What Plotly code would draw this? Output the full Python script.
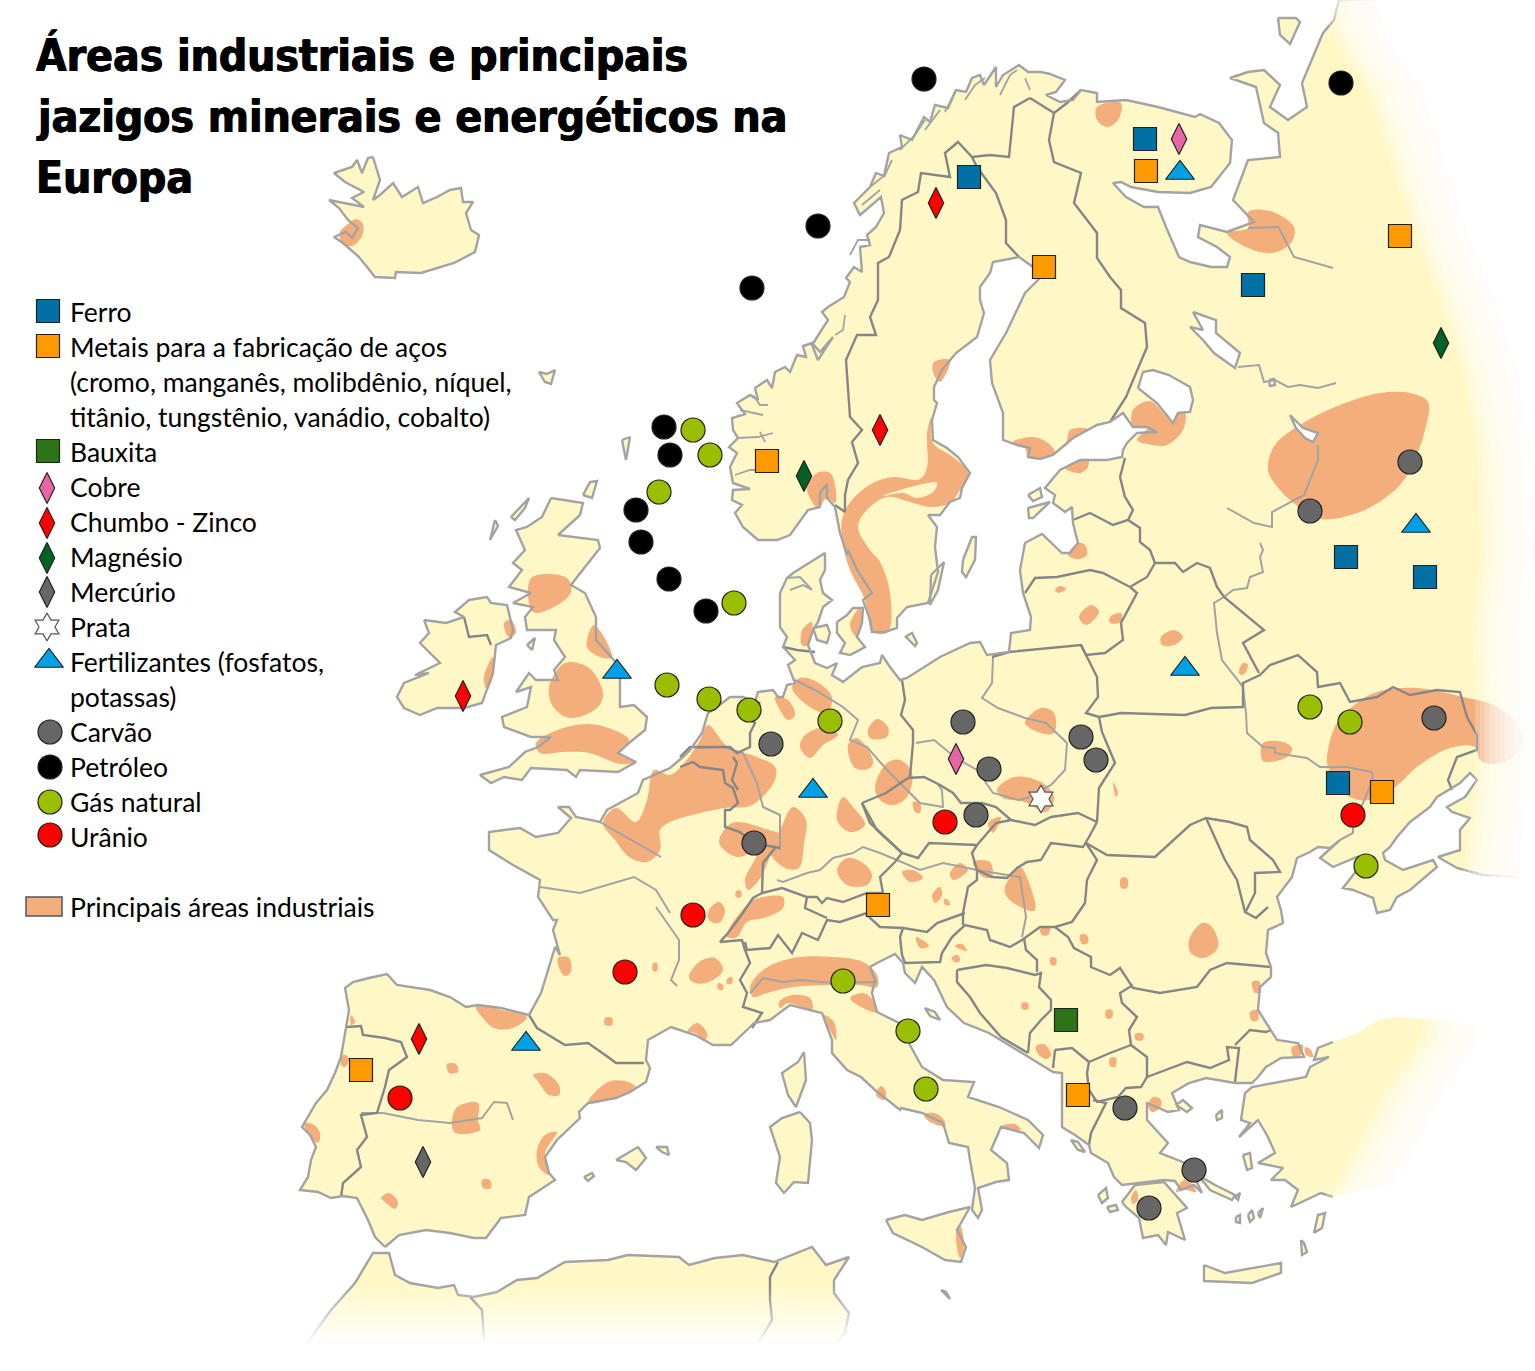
import plotly.graph_objects as go

# map is traced in picture coordinates, axes run 0-1535 and 1371-0
LAND = "#fff8c6"
AREA = "#f4ae7b"
COAST = "#a3a3a3"
BORDER = "#868686"
TITLE_FONT = "DejaVu Sans Condensed"
TEXT_FONT = "Lato"

mainland = [
    (385,1247),(375,1237),(368,1220),(357,1198),(343,1196),(331,1198),(318,1192),(300,1190),(308,1177),(311,1160),
    (316,1147),(310,1135),(302,1127),(306,1120),(316,1103),(327,1090),(335,1073),(341,1057),(345,1033),(347,1025),
    (349,1010),(345,988),(353,982),(369,978),(387,974),(397,985),(430,990),(450,997),(466,1007),(478,1005),(501,1008),
    (529,1015),(541,993),(549,967),(555,947),(560,955),(553,930),(557,920),(553,920),(538,897),(540,880),(513,865),
    (489,850),(489,832),(520,828),(536,837),(558,833),(571,818),(558,807),(569,807),(576,817),(600,822),(607,810),
    (638,793),(643,780),(670,768),(683,757),(690,750),(695,743),(702,733),(708,713),(717,707),(730,697),(743,697),
    (755,702),(758,692),(773,690),(778,697),(783,697),(787,685),(795,683),(788,665),(795,660),(783,647),(787,637),
    (780,627),(780,593),(787,578),(793,573),(813,560),(825,553),(825,570),(820,580),(823,593),(832,600),(823,607),
    (818,622),(813,630),(808,645),(815,663),(827,668),(837,663),(832,675),(843,682),(862,667),(880,663),(882,655),
    (890,667),(900,680),(907,678),(940,657),(970,643),(980,642),(987,655),(1009,652),(1011,633),(1030,630),(1031,617),
    (1023,593),(1020,570),(1025,543),(1042,534),(1053,545),(1062,553),(1070,553),(1078,543),(1073,523),(1072,507),
    (1065,512),(1053,503),(1055,495),(1045,488),(1060,470),(1080,460),(1107,460),(1122,457),(1123,450),(1127,443),
    (1137,433),(1157,432),(1147,427),(1133,427),(1123,413),(1110,422),(1097,425),(1073,438),(1053,455),(1040,459),
    (1028,457),(1030,448),(1017,445),(1003,440),(1003,413),(992,383),(990,360),(1006,333),(1025,293),(1041,277),
    (1033,267),(1019,257),(993,262),(990,273),(980,287),(980,300),(984,313),(977,337),(956,353),(942,370),(934,387),
    (934,400),(937,403),(932,420),(933,440),(947,448),(958,457),(970,473),(962,488),(960,498),(950,502),(940,515),
    (928,515),(937,527),(935,547),(938,572),(928,603),(907,607),(897,618),(897,628),(885,632),(872,632),(870,620),
    (863,600),(872,593),(857,570),(848,550),(847,555),(840,533),(835,507),(827,498),(827,484),(820,493),(820,507),
    (808,510),(790,535),(777,540),(758,540),(743,527),(735,513),(742,505),(732,500),(733,490),(750,489),(733,483),
    (730,467),(737,453),(729,447),(738,438),(733,430),(732,418),(745,414),(737,403),(750,395),(758,400),(755,388),
    (767,380),(772,388),(775,372),(785,367),(790,372),(797,355),(806,357),(803,346),(812,343),(820,352),(833,337),
    (818,360),(812,345),(828,320),(822,312),(828,307),(844,297),(850,282),(846,278),(854,267),(862,272),(860,247),
    (870,245),(867,235),(876,227),(884,213),(881,197),(872,205),(860,215),(854,203),(870,187),(876,173),(884,176),
    (889,153),(902,147),(900,135),(912,140),(924,117),(930,122),(935,105),(948,108),(956,90),(966,92),(972,78),
    (980,75),(984,85),(996,67),(996,87),(1003,75),(1019,65),(1028,72),(1041,72),(1050,74),(1065,80),(1056,92),
    (1046,95),(1060,102),(1073,100),(1081,90),(1097,93),(1097,102),(1126,100),(1158,107),(1195,117),(1200,114),
    (1219,123),(1232,140),(1230,163),(1211,187),(1190,193),(1158,192),(1131,187),(1121,182),(1113,183),(1126,197),
    (1144,207),(1158,207),(1166,227),(1179,257),(1190,262),(1211,267),(1227,267),(1230,257),(1217,247),(1198,237),
    (1200,225),(1227,232),(1254,222),(1233,200),(1248,160),(1280,157),(1278,133),(1264,123),(1256,87),(1230,78),
    (1248,72),(1264,70),(1280,85),(1270,107),(1288,120),(1307,107),(1302,83),(1312,60),(1323,33),(1334,20),(1339,0),
    (1535,0),(1535,880),(1503,876),(1483,875),(1457,868),(1438,857),(1460,850),(1460,830),(1470,818),(1452,812),
    (1447,807),(1465,797),(1477,780),(1470,773),(1460,783),(1437,797),(1430,807),(1410,822),(1397,837),(1390,847),
    (1383,853),(1385,860),(1403,870),(1433,860),(1437,867),(1410,890),(1397,897),(1390,910),(1377,913),(1373,898),
    (1353,890),(1343,888),(1357,870),(1370,857),(1357,857),(1333,867),(1320,858),(1340,840),(1330,848),(1318,847),
    (1310,852),(1297,858),(1292,877),(1277,897),(1281,910),(1283,923),(1268,930),(1266,953),(1271,967),(1271,977),
    (1260,987),(1258,1010),(1271,1030),(1277,1040),(1298,1043),(1304,1057),(1281,1058),(1266,1067),(1258,1077),
    (1252,1083),(1235,1083),(1206,1078),(1189,1083),(1172,1093),(1179,1110),(1168,1112),(1147,1103),(1147,1120),
    (1168,1143),(1160,1153),(1185,1163),(1196,1180),(1202,1193),(1194,1185),(1181,1190),(1175,1181),(1164,1180),
    (1139,1183),(1122,1185),(1114,1177),(1108,1163),(1091,1153),(1089,1145),(1075,1135),(1062,1127),(1062,1073),
    (1053,1072),(1022,1053),(989,1033),(964,1023),(947,1007),(934,980),(922,967),(915,983),(905,973),(903,963),
    (895,954),(877,963),(870,967),(875,980),(872,993),(877,1012),(899,1023),(911,1047),(922,1067),(943,1080),(974,1082),
    (968,1097),(999,1107),(1028,1120),(1043,1135),(1039,1148),(1024,1133),(1001,1127),(991,1150),(1007,1163),
    (1009,1180),(996,1182),(978,1188),(982,1210),(978,1218),(972,1210),(975,1188),(970,1160),(968,1147),(949,1143),
    (943,1123),(922,1113),(901,1108),(900,1110),(875,1090),(861,1077),(847,1070),(832,1053),(832,1040),(822,1013),
    (790,1005),(770,1020),(754,1023),(749,1028),(731,1045),(713,1045),(695,1035),(671,1027),(648,1040),(646,1060),
    (650,1068),(646,1082),(630,1092),(616,1098),(588,1103),(579,1112),(580,1118),(557,1140),(545,1157),(549,1173),
    (555,1180),(529,1197),(525,1215),(501,1218),(486,1238),(474,1238),(450,1233),(426,1230),(399,1235),(385,1247),
]
iceland = [
    (373,157),(380,180),(373,200),(380,195),(393,183),(402,197),(418,187),(423,203),(437,197),(450,190),(461,188),
    (463,202),(473,202),(466,213),(471,230),(479,235),(475,252),(454,263),(421,273),(396,272),(395,278),(375,277),
    (359,257),(343,243),(334,237),(346,232),(352,238),(358,228),(348,220),(339,208),(329,200),(364,207),(352,198),
    (364,192),(345,182),(334,173),(352,167),(357,160),(362,173),(368,158),
]
great_britain = [
    (551,498),(583,503),(580,515),(558,535),(598,540),(600,548),(585,567),(571,585),(585,593),(596,617),(596,640),
    (620,667),(620,707),(634,705),(647,717),(645,730),(629,743),(618,753),(636,762),(618,772),(580,770),(576,777),
    (567,770),(531,768),(522,780),(504,777),(491,783),(480,775),(509,767),(525,752),(538,747),(551,737),(531,737),
    (504,727),(502,717),(527,707),(531,687),(516,692),(529,673),(536,680),(558,680),(554,670),(565,657),(554,640),
    (556,630),(527,630),(525,617),(533,607),(513,603),(531,593),(509,587),(522,570),(513,563),(525,550),(516,530),
    (527,527),(542,517),
]
ireland = [
    (424,620),(446,623),(464,617),(455,612),(469,600),(487,597),(491,603),(507,605),(513,630),(511,638),(496,645),
    (493,673),(482,703),(464,708),(437,708),(420,715),(404,708),(397,697),(404,683),(429,673),(415,675),(440,663),
    (420,643),(429,633),
]
sicily = [(886,1220),(905,1215),(922,1220),(949,1212),(970,1207),(957,1230),(966,1247),(961,1262),(945,1260),(922,1247),(893,1233)]
sardinia = [(800,1112),(810,1123),(812,1140),(808,1183),(794,1182),(784,1193),(776,1183),(780,1157),(770,1127),(782,1118)]
corsica = [(804,1052),(806,1080),(796,1107),(788,1095),(782,1073),(798,1062)]
peloponnese = [(1122,1202),(1135,1185),(1164,1182),(1174,1193),(1187,1208),(1177,1213),(1185,1240),(1168,1232),(1166,1245),(1158,1235),(1143,1238),(1139,1218),(1126,1207)]
crete = [(1204,1265),(1225,1273),(1281,1263),(1281,1273),(1252,1283),(1204,1281)]
turkey = [
    (1333,1042),(1318,1048),(1314,1060),(1329,1057),(1310,1067),(1306,1077),(1252,1087),(1245,1093),(1241,1120),
    (1250,1123),(1239,1137),(1258,1120),(1268,1137),(1275,1153),(1258,1163),(1283,1168),(1271,1180),(1285,1180),
    (1298,1190),(1291,1207),(1321,1193),(1333,1197),(1390,1185),(1520,1150),(1520,1030),(1440,1020),(1394,1017),
    (1377,1020),(1358,1033),
]
africa = [
    (331,1310),(355,1283),(373,1253),(389,1253),(395,1275),(410,1283),(438,1288),(454,1285),(458,1295),(474,1297),
    (497,1292),(517,1280),(537,1278),(565,1262),(608,1260),(628,1255),(679,1257),(689,1265),(715,1258),(743,1255),
    (774,1262),(812,1247),(826,1265),(849,1257),(834,1280),(834,1293),(849,1313),(845,1333),(826,1353),(300,1353),
]
small_islands = [
    [(616,1160),(628,1153),(638,1147),(646,1158),(636,1170),(626,1162)],
    [(656,1147),(667,1147),(669,1155),(662,1152)],
    [(584,1177),(592,1173),(594,1176),(588,1181)],
    [(813,628),(827,625),(830,633),(827,643),(817,640)],
    [(837,622),(847,615),(853,608),(863,608),(862,623),(857,637),(865,647),(850,655),(840,653),(845,643),(837,633)],
    [(905,637),(912,633),(917,643),(915,646),(907,638)],
    [(963,560),(972,537),(976,537),(975,560),(966,577),(962,572)],
    [(931,575),(944,562),(938,590),(930,605)],
    [(1028,495),(1040,488),(1042,497),(1033,501)],
    [(1028,508),(1050,502),(1033,518),(1029,518)],
    [(511,517),(529,498),(525,508),(515,520)],
    [(527,645),(535,638),(532,650)],
    [(495,520),(498,526),(490,540)],
    [(539,372),(547,374),(555,370),(551,384),(545,382)],
    [(583,495),(590,482),(597,481),(592,498)],
    [(622,440),(630,437),(626,460)],
    [(1198,1175),(1215,1185),(1235,1195),(1232,1200),(1210,1190)],
    [(1098,1195),(1106,1188),(1108,1198),(1102,1203)],
    [(1107,1207),(1116,1205),(1118,1210),(1110,1212)],
    [(1071,1140),(1078,1142),(1085,1152),(1078,1150)],
    [(1314,1233),(1318,1215),(1325,1213),(1322,1228)],
    [(1243,1155),(1250,1153),(1252,1168),(1247,1170)],
    [(1176,1105),(1183,1100),(1192,1108),(1187,1112)],
    [(1216,1115),(1222,1110),(1222,1118),(1217,1120)],
    [(1235,1197),(1240,1193),(1238,1200)],
    [(1248,1215),(1252,1210),(1254,1218),(1250,1222)],
    [(1236,1217),(1240,1215),(1240,1223),(1236,1222)],
    [(1258,1213),(1263,1208),(1260,1218)],
    [(1301,1240),(1304,1243),(1307,1252),(1302,1255)],
    [(941,1290),(946,1292),(950,1299),(945,1294)],
    [(925,1008),(935,1012),(940,1020),(930,1016)],
]
lakes = [
    [(1138,388),(1143,372),(1153,370),(1169,375),(1190,387),(1193,400),(1190,412),(1178,413),(1173,423),(1157,403)],
    [(1193,312),(1216,320),(1216,333),(1240,353),(1235,368),(1214,353),(1203,340),(1190,327),(1203,330)],
    [(1290,415),(1303,428),(1318,433),(1313,442),(1305,438),(1296,428)],
    [(1269,380),(1274,379),(1275,385),(1270,386)],
]
arctic_island = [(1278,18),(1296,18),(1300,22),(1290,44),(1280,35)]
fjords = [
    [(737,438),(758,437),(773,433)], [(760,432),(765,442)], [(740,410),(763,415)], [(753,395),(760,405),(768,405)],
    [(735,475),(750,470),(760,470)], [(870,187),(885,175),(892,160)], [(862,205),(880,190)],
    [(900,150),(915,135),(925,120)], [(925,130),(940,110)], [(945,112),(955,92)], [(965,100),(975,85),(985,78)],
    [(1000,95),(1010,75),(1017,70)], [(1025,78),(1030,90)], [(850,255),(858,240),(870,240)], [(835,335),(843,330),(845,315)],
]

# principais areas industriais
industrial_areas = [
    [(340,232),(348,224),(356,219),(363,224),(362,236),(352,246),(342,243)],
    [(1097,107),(1121,103),(1118,120),(1107,127),(1097,120)],
    [(1248,212),(1270,211),(1294,227),(1291,243),(1272,253),(1248,248),(1227,233),(1248,228)],
    [(934,362),(950,360),(940,382),(933,372)],
    [(931,418),(933,443),(953,457),(968,473),(958,493),(950,503),(930,507),(910,502),(887,497),(867,510),(858,527),
     (870,550),(880,562),(890,593),(888,632),(873,632),(865,600),(850,570),(843,545),(842,520),(852,500),(873,483),
     (893,477),(920,479),(927,467),(927,433)],
    [(807,488),(817,473),(830,473),(835,485),(835,503),(827,498),(818,508),(810,498)],
    [(1013,442),(1033,437),(1048,443),(1055,453),(1040,459),(1028,457),(1025,448)],
    [(1067,440),(1070,430),(1087,429),(1073,438),(1065,447)],
    [(1065,468),(1088,459),(1088,467),(1080,473)],
    [(1133,410),(1150,401),(1167,417),(1173,422),(1177,413),(1185,413),(1183,430),(1167,445),(1153,445),(1137,440),(1147,428),(1133,427)],
    [(1068,555),(1078,543),(1085,545),(1087,555),(1078,559)],
    [(1055,590),(1060,586),(1066,589),(1058,593)],
    [(1079,617),(1091,605),(1099,612),(1086,625)],
    [(1110,617),(1121,613),(1121,622),(1110,623)],
    [(1161,637),(1174,630),(1183,637),(1174,645),(1162,645)],
    [(1243,663),(1248,665),(1243,675),(1239,673)],
    [(1268,470),(1275,445),(1300,425),(1340,405),(1380,393),(1410,393),(1428,402),(1425,430),(1410,470),(1395,490),(1360,512),(1320,519),(1300,508),(1280,490)],
    [(1328,750),(1337,723),(1357,703),(1377,692),(1417,688),(1463,697),(1493,705),(1517,723),(1523,740),(1513,757),(1493,764),(1480,760),(1475,747),(1450,748),(1417,767),(1400,783),(1387,793),(1370,800),(1350,797),(1328,767)],
    [(1263,743),(1283,742),(1292,748),(1287,757),(1263,761)],
    [(1189,940),(1202,923),(1212,927),(1218,947),(1204,958),(1191,953)],
    [(1121,878),(1127,878),(1127,888),(1121,888)],
    [(1252,982),(1259,981),(1260,992),(1255,993)],
    [(1250,1012),(1257,1010),(1258,1020),(1252,1021)],
    [(1080,935),(1087,935),(1088,943),(1082,944)],
    [(1040,929),(1050,928),(1048,935),(1042,935)],
    [(1050,958),(1056,958),(1056,965),(1051,965)],
    [(1106,1010),(1112,1010),(1112,1018),(1106,1018)],
    [(1135,1034),(1143,1034),(1143,1040),(1136,1040)],
    [(1110,1058),(1116,1058),(1115,1067),(1110,1066)],
    [(1036,1046),(1044,1044),(1051,1055),(1046,1059),(1038,1054)],
    [(1022,1003),(1028,1003),(1028,1009),(1022,1009)],
    [(916,937),(924,941),(929,946),(920,948)],
    [(955,946),(962,944),(967,951),(960,949)],
    [(952,957),(958,955),(960,961),(954,962)],
    [(1292,1047),(1303,1045),(1300,1056),(1293,1056)],
    [(1305,1047),(1311,1050),(1313,1057),(1306,1055)],
    [(1148,1106),(1153,1097),(1161,1100),(1160,1108),(1152,1112)],
    [(1176,1192),(1184,1180),(1192,1184),(1196,1192),(1185,1190)],
    [(1131,1198),(1136,1190),(1138,1200),(1133,1204)],
    [(876,1095),(881,1086),(886,1092),(884,1100)],
    [(924,1115),(934,1113),(944,1120),(945,1126),(930,1122)],
    [(1002,1126),(1015,1124),(1021,1130),(1010,1129)],
    [(956,1233),(960,1225),(964,1246),(960,1258)],
    [(902,872),(913,870),(923,878),(910,882)],
    [(950,873),(960,863),(968,870),(953,880)],
    [(973,862),(990,862),(992,877),(983,877)],
    [(1005,887),(1020,867),(1028,880),(1035,910),(1027,910),(1007,897)],
    [(932,895),(940,887),(942,895),(935,903)],
    [(944,899),(948,900),(950,905),(945,905)],
    [(837,870),(847,858),(863,863),(872,875),(867,885),(847,885)],
    [(740,913),(753,900),(783,897),(783,908),(767,917),(747,922),(737,937),(727,937),(730,927)],
    [(708,725),(728,747),(757,757),(775,767),(775,780),(752,805),(725,808),(700,813),(670,822),(660,830),(660,850),(647,862),(629,857),(615,840),(603,823),(616,808),(636,822),(647,800),(654,770),(670,775),(685,762),(700,740)],
    [(775,697),(788,700),(795,715),(788,720),(780,710)],
    [(792,688),(800,678),(817,682),(832,697),(827,713),(810,707)],
    [(800,747),(805,735),(827,727),(838,735),(823,745),(810,758)],
    [(868,730),(877,719),(888,727),(887,737),(870,738)],
    [(848,745),(857,738),(873,760),(870,768),(855,768)],
    [(875,787),(887,763),(900,760),(912,773),(907,797),(893,805),(880,800)],
    [(913,802),(920,803),(920,813),(915,812)],
    [(837,820),(843,797),(853,807),(865,825),(850,832)],
    [(780,830),(793,807),(806,820),(804,843),(799,868),(785,868),(769,850)],
    [(719,843),(732,823),(769,830),(780,835),(772,852),(759,880),(748,890),(745,880),(757,852),(737,857)],
    [(736,891),(741,891),(741,897),(736,897)],
    [(689,977),(699,962),(715,958),(723,970),(709,982),(695,983)],
    [(727,979),(732,977),(732,983),(727,984)],
    [(718,983),(723,985),(723,990),(718,989)],
    [(653,963),(657,963),(657,971),(653,971)],
    [(605,1018),(612,1018),(612,1025),(605,1025)],
    [(558,958),(569,958),(571,972),(565,976),(560,970)],
    [(687,1032),(697,1023),(707,1033),(705,1040),(695,1033)],
    [(709,910),(719,902),(725,910),(719,923),(709,920)],
    [(750,987),(763,970),(793,958),(833,957),(863,962),(877,975),(877,987),(860,985),(833,985),(793,987),(767,993),(753,997)],
    [(779,1002),(792,995),(810,998),(812,1010),(788,1003),(780,1008)],
    [(850,998),(863,993),(873,1000),(877,1012),(863,1008)],
    [(824,1015),(834,1022),(836,1040),(830,1030)],
    [(476,1007),(482,1005),(501,1010),(527,1017),(513,1028),(494,1028),(482,1017)],
    [(588,1103),(608,1082),(628,1082),(636,1088),(616,1098)],
    [(533,1075),(545,1073),(559,1085),(559,1095),(549,1095),(537,1080)],
    [(456,1108),(478,1103),(478,1120),(480,1130),(454,1132)],
    [(447,1064),(456,1064),(458,1072),(449,1073)],
    [(537,1150),(545,1135),(557,1132),(545,1153),(549,1175),(539,1167)],
    [(381,1198),(389,1193),(398,1202),(395,1209),(385,1202)],
    [(482,1180),(490,1180),(491,1188),(483,1188)],
    [(304,1123),(314,1125),(320,1133),(318,1143),(308,1133)],
    [(343,1055),(349,1058),(345,1067),(341,1065)],
    [(351,1015),(355,1022),(351,1025)],
    [(531,578),(567,578),(571,592),(554,607),(533,612)],
    [(594,625),(612,657),(603,658),(587,647)],
    [(549,687),(565,663),(589,668),(603,693),(598,707),(571,718),(554,708)],
    [(536,743),(567,727),(598,725),(629,740),(618,753),(636,762),(621,764),(589,753),(563,752),(540,753)],
    [(504,623),(511,620),(516,633),(509,637)],
    [(484,677),(493,657),(493,677),(487,690)],
    [(802,645),(802,630),(812,622),(808,645)],
    [(850,625),(860,608),(863,620),(857,637)],
    [(1025,723),(1041,708),(1054,713),(1054,733),(1041,733)],
    [(997,790),(1014,777),(1041,782),(1054,797),(1046,812),(1025,802),(1003,798)],
    [(988,823),(1001,817),(993,833)],
    [(1113,782),(1118,793),(1116,797)],
]
industrial_holes = [[(883,496),(900,490),(937,483),(933,492),(917,498),(903,493)]]

# fronteiras
borders = [
    [(347,1027),(361,1026),(363,1035),(385,1038),(401,1042),(407,1057),(389,1070),(385,1087),(377,1113),(361,1115),(367,1137),(357,1150),(361,1167),(343,1183),(341,1197)],
    [(529,1015),(537,1028),(565,1045),(588,1043),(608,1057),(616,1063),(644,1063)],
    [(680,767),(693,762),(700,767),(723,770),(725,783),(733,788),(738,803),(730,810),(725,810),(725,827),(740,832),(753,843),(780,848)],
    [(733,757),(737,763),(732,780),(738,790)],
    [(680,757),(690,747),(730,747),(737,753),(750,747),(750,733),(755,723),(748,717),(760,702)],
    [(775,848),(763,863),(762,893),(753,898),(740,917),(728,933),(720,942),(742,940),(745,950),(750,963),(740,980),(747,993),(743,1007),(762,1013),(752,1028)],
    [(745,942),(747,950),(770,948),(778,935),(792,953),(802,933),(818,940),(827,920),(840,922),(867,913),(870,918),(880,927),(903,928),(927,932),(937,923),(960,915),(965,913)],
    [(762,893),(782,888),(807,897),(805,908),(827,918)],
    [(807,897),(817,897),(822,903),(827,898),(843,902),(867,893),(883,893),(880,877),(895,862),(902,853),(877,830),(862,803)],
    [(903,928),(900,937),(902,955),(905,963),(940,962),(942,953),(952,937),(965,925),(987,930),(990,940),(1010,947),(1022,940),(1040,927),(1055,927)],
    [(963,925),(963,913),(968,887),(977,880),(977,870),(992,877),(1007,878),(1017,868),(1027,862),(1041,860),(1051,843),(1083,847),(1089,837),(1097,822)],
    [(862,803),(886,793),(908,778),(924,777),(940,785),(953,793),(961,803),(982,803),(996,807),(1011,820),(996,823),(977,845),(929,843),(918,858),(902,853),(870,823),(862,803)],
    [(1011,820),(1035,825),(1051,817),(1078,813),(1097,822)],
    [(977,845),(972,853),(977,870)],
    [(1086,843),(1107,855),(1155,857),(1190,825),(1206,818),(1230,822),(1247,827),(1250,840),(1273,860),(1280,872),(1255,873),(1255,893),(1245,913)],
    [(1206,818),(1225,860),(1237,880),(1245,912),(1256,918),(1268,907)],
    [(1086,843),(1097,860),(1087,880),(1085,903),(1072,922),(1055,927),(1068,937),(1074,948),(1091,957),(1091,967),(1110,975),(1120,968),(1133,988),(1160,993),(1197,987),(1210,970),(1227,963),(1271,967)],
    [(1133,985),(1120,993),(1122,1003),(1137,1017),(1129,1030),(1131,1045),(1147,1057),(1147,1077),(1141,1087),(1126,1088),(1118,1097),(1097,1102),(1089,1090),(1087,1073),(1089,1062),(1110,1053),(1131,1045)],
    [(1055,1050),(1072,1048),(1089,1062)],
    [(1055,1050),(1053,1068)],
    [(1093,1100),(1106,1103),(1091,1133),(1089,1145)],
    [(1147,1077),(1187,1062),(1210,1068),(1229,1060),(1227,1047),(1239,1048),(1235,1082)],
    [(1235,1045),(1250,1030),(1266,1032),(1271,1030)],
    [(957,970),(986,965),(1007,968),(1035,975),(1041,973),(1039,987),(1051,1000),(1051,1010),(1041,1020),(1030,1033),(1028,1053)],
    [(957,970),(957,982),(970,997),(980,1013),(1001,1037),(1028,1053)],
    [(1024,938),(1026,950),(1037,960),(1037,972)],
    [(902,680),(905,700),(901,715),(913,730),(913,743),(910,777)],
    [(1081,645),(1097,677),(1098,697),(1086,713),(1099,717),(1102,732),(1115,763),(1099,788),(1097,822)],
    [(992,657),(1009,652),(1081,645),(1086,655),(1105,653),(1123,640),(1121,623),(1137,593),(1130,587)],
    [(1025,593),(1035,578),(1057,577),(1090,570),(1103,573),(1130,587),(1147,577),(1155,563)],
    [(1073,520),(1090,513),(1113,525),(1128,520),(1133,510),(1125,497),(1120,477),(1125,458)],
    [(1128,520),(1140,528),(1140,542),(1150,550),(1155,563),(1163,563),(1175,563),(1183,572),(1197,563),(1210,568),(1217,587),(1224,597),(1243,613),(1264,630),(1243,643),(1259,673)],
    [(1099,717),(1121,713),(1185,715),(1211,708),(1243,707),(1243,683),(1260,675),(1270,665),(1298,655),(1317,672),(1318,687),(1340,683),(1350,702),(1377,697),(1393,687),(1410,695),(1437,690),(1460,692),(1467,717),(1477,735),(1477,750),(1457,757),(1448,780),(1452,790)],
    [(1030,98),(1014,107),(1009,157),(990,155),(972,157),(958,142),(945,153),(950,177),(921,173),(918,192),(902,200),(900,230),(889,257),(878,263),(878,300),(870,317),(876,335),(857,335),(846,360),(850,417),(862,430),(852,442),(858,463),(848,480),(845,495),(845,512),(835,505)],
    [(972,157),(977,167),(996,193),(1006,220),(1006,243),(1019,257)],
    [(1030,98),(1054,113),(1049,140),(1054,162),(1081,173),(1074,203),(1097,233),(1097,258),(1110,277),(1121,290),(1121,308),(1145,323),(1147,347),(1126,397),(1110,422)],
    [(1054,113),(1067,103),(1081,90)],
    [(464,617),(469,637),(487,635),(491,645)],
    [(783,647),(797,650),(815,652)],
    [(470,1297),(482,1310),(484,1340)],
    [(778,1262),(770,1277),(770,1300),(772,1320),(754,1350)],
]
# rios
rivers = [
    [(1238,367),(1259,365),(1264,382),(1275,380),(1288,387),(1300,385),(1318,388),(1336,383)],
    [(1248,228),(1278,227),(1280,230),(1294,257),(1312,262),(1333,268)],
    [(1227,508),(1254,523),(1272,527),(1272,512),(1304,495),(1318,460),(1318,445)],
    [(1260,543),(1263,550),(1260,557),(1263,572),(1250,577),(1247,588),(1233,590),(1224,597),(1214,603),(1217,633),(1222,660),(1243,687),(1246,713),(1247,733),(1263,747),(1275,748),(1275,753),(1307,758),(1320,767),(1347,767),(1372,772),(1373,780),(1363,803),(1353,820),(1353,833),(1340,840)],
    [(777,880),(783,882),(807,873),(820,870),(833,858),(853,853),(863,847),(880,853),(897,860),(920,870),(943,863),(977,870),(1020,877),(1026,917),(1022,937)],
    [(780,850),(780,815),(763,807),(757,783),(743,753),(723,747),(697,748)],
    [(600,822),(632,840),(661,857)],
    [(540,887),(580,893),(634,877),(656,890),(670,913)],
    [(656,907),(679,940),(679,960),(671,980),(677,986)],
    [(361,1113),(383,1113),(418,1120),(450,1123),(482,1118),(494,1102),(507,1103),(513,1120)],
    [(750,993),(763,978),(783,982),(800,980),(833,983),(877,982)],
    [(993,657),(992,683),(982,698),(998,708),(1025,718),(1046,723),(1067,743),(1065,770),(1051,785),(1041,790)],
    [(795,680),(815,690),(843,707),(858,720),(850,740),(867,747),(887,770),(907,790),(920,803),(943,807),(942,790),(937,783)],
    [(916,743),(934,740),(956,758),(977,770),(993,793),(1019,800),(1030,797)],
    [(787,578),(800,577),(812,590),(803,585),(790,590)],
]

# legenda e marcadores
categories = ["Ferro", "Metais", "Bauxita", "Cobre", "Chumbo - Zinco", "Magnésio", "Mercúrio", "Prata", "Fertilizantes", "Carvão", "Petróleo", "Gás natural", "Urânio"]
ferro_x = [969, 1145, 1253, 1346, 1425, 1338]
ferro_y = [177, 139, 285, 557, 577, 783]
metais_x = [1146, 1400, 1044, 767, 1382, 878, 361, 1078]
metais_y = [171, 236, 267, 461, 792, 905, 1070, 1095]
bauxita_x = [1066]
bauxita_y = [1020]
cobre_x = [1179, 956]
cobre_y = [139, 759]
chumbo_x = [936, 880, 463, 419]
chumbo_y = [203, 430, 696, 1039]
magnesio_x = [1441, 804]
magnesio_y = [343, 476]
mercurio_x = [423]
mercurio_y = [1162]
prata_x = [1041]
prata_y = [799]
fertilizantes_x = [1180, 1416, 1185, 617, 813, 526]
fertilizantes_y = [173, 526, 669, 672, 791, 1044]
carvao_x = [1410, 1310, 1434, 963, 1081, 1096, 771, 989, 976, 754, 1125, 1194, 1149]
carvao_y = [462, 511, 718, 722, 737, 760, 744, 769, 815, 843, 1108, 1170, 1208]
petroleo_x = [924, 1341, 818, 752, 664, 670, 636, 641, 669, 706]
petroleo_y = [79, 83, 226, 288, 427, 455, 510, 542, 579, 611]
gas_x = [693, 710, 659, 734, 667, 709, 749, 830, 1310, 1350, 1366, 843, 908, 926]
gas_y = [430, 455, 492, 603, 685, 699, 710, 721, 707, 722, 866, 981, 1031, 1089]
uranio_x = [945, 1353, 693, 625, 400]
uranio_y = [822, 815, 915, 972, 1098]

legend_x = [48, 48, 48, 47, 47, 47, 47, 47, 49, 50, 50, 50, 50]
legend_y = [311, 346, 451, 488, 523, 558, 592, 627, 661, 732, 767, 802, 835]

title_lines = ["Áreas industriais e principais", "jazigos minerais e energéticos na", "Europa"]
title_y = [55, 116, 177]
legend_lines = [
    "Ferro", "Metais para a fabricação de aços", "(cromo, manganês, molibdênio, níquel,",
    "titânio, tungstênio, vanádio, cobalto)", "Bauxita", "Cobre", "Chumbo - Zinco", "Magnésio", "Mercúrio",
    "Prata", "Fertilizantes (fosfatos,", "potassas)", "Carvão", "Petróleo", "Gás natural", "Urânio",
]
legend_line_y = [312, 347, 382, 417, 452, 487, 522, 557, 592, 627, 662, 697, 732, 767, 802, 837]

# onde a terra comeca a desaparecer
east_fade = [(1318,0),(1345,60),(1365,83),(1390,160),(1413,233),(1440,300),(1461,367),(1478,460),(1480,560),(1472,627),(1475,700),(1475,780),(1463,870),(1463,885)]
turkey_fade = [(1425,1000),(1420,1040),(1385,1090),(1365,1130),(1340,1175),(1320,1205)]

styles = {
    "Ferro": ("square", "#0070a5", 23), "Metais": ("square", "#ff9900", 23), "Bauxita": ("square", "#2d7317", 23),
    "Cobre": ("diamond-tall", "#e764a6", 22), "Chumbo - Zinco": ("diamond-tall", "#ff0000", 22),
    "Magnésio": ("diamond-tall", "#006325", 22), "Mercúrio": ("diamond-tall", "#666666", 22),
    "Prata": ("hexagram", "#ffffff", 21), "Fertilizantes": ("triangle-up", "#00a0e6", 25),
    "Carvão": ("circle", "#666666", 24), "Petróleo": ("circle", "#000000", 24),
    "Gás natural": ("circle", "#99bf00", 24), "Urânio": ("circle", "#ff0000", 24),
}
marker_data = {
    "Ferro": (ferro_x, ferro_y), "Metais": (metais_x, metais_y), "Bauxita": (bauxita_x, bauxita_y),
    "Cobre": (cobre_x, cobre_y), "Chumbo - Zinco": (chumbo_x, chumbo_y), "Magnésio": (magnesio_x, magnesio_y),
    "Mercúrio": (mercurio_x, mercurio_y), "Prata": (prata_x, prata_y), "Fertilizantes": (fertilizantes_x, fertilizantes_y),
    "Carvão": (carvao_x, carvao_y), "Petróleo": (petroleo_x, petroleo_y), "Gás natural": (gas_x, gas_y), "Urânio": (uranio_x, uranio_y),
}

fig = go.Figure()

def add_poly(pts, fill=None, line=None, width=0, spline=False, close=True):
    xs = [p[0] for p in pts]
    ys = [p[1] for p in pts]
    if close:
        xs.append(xs[0])
        ys.append(ys[0])
    fig.add_trace(go.Scatter(
        x=xs, y=ys, mode="lines", hoverinfo="skip", showlegend=False,
        fill="toself" if fill else "none", fillcolor=fill,
        line=dict(color=line or "rgba(0,0,0,0)", width=width, shape="spline" if spline else "linear"),
    ))

def add_fade(edge, steps, step_px):
    for i in range(steps + 1):
        pts = [(x + i * step_px, y) for x, y in edge]
        pts += [(1600, edge[-1][1]), (1600, edge[0][1])]
        alpha = 1 if i == steps else 0.22
        add_poly(pts, fill=f"rgba(255,255,255,{alpha})")

land_shapes = [mainland, iceland, great_britain, ireland, sicily, sardinia, corsica, peloponnese, crete, africa, arctic_island] + small_islands

add_poly(turkey, fill=LAND)
for shape in land_shapes:
    add_poly(shape, fill=LAND)
for shape in industrial_areas:
    add_poly(shape, fill=AREA, spline=True)
for shape in industrial_holes:
    add_poly(shape, fill=LAND, spline=True)
for shape in lakes:
    add_poly(shape, fill="#ffffff")

# linhas por cima das manchas
for shape in rivers:
    add_poly(shape, line=COAST, width=2, close=False)
for shape in borders:
    add_poly(shape, line=BORDER, width=2.4, close=False)
for shape in lakes + land_shapes:
    add_poly(shape, line=COAST, width=2.4)
for shape in fjords:
    add_poly(shape, line=COAST, width=1.8, close=False)
add_poly(turkey[:22], line=COAST, width=2.4, close=False)

# esmaecimento a leste e a sul
add_fade(east_fade, 11, 5)
add_fade(turkey_fade, 10, 6)
fig.add_trace(go.Scatter(
    x=[290, 880, 880, 290, 290], y=[1275, 1275, 1371, 1371, 1275], mode="lines", hoverinfo="skip", showlegend=False,
    fill="toself", line=dict(width=0, color="rgba(0,0,0,0)"),
    fillgradient=dict(type="vertical", start=1285, stop=1345, colorscale=[[0, "rgba(255,255,255,0)"], [1, "rgba(255,255,255,1)"]]),
))

for i, cat in enumerate(categories):
    symbol, color, size = styles[cat]
    xs, ys = marker_data[cat]
    outline = "#555555" if cat == "Prata" else "#222222"
    fig.add_trace(go.Scatter(
        x=xs + [legend_x[i]], y=ys + [legend_y[i]], mode="markers", hoverinfo="skip", showlegend=False,
        marker=dict(symbol=symbol, color=color, size=size, line=dict(color=outline, width=1.2)),
    ))

annotations = []
for text, y in zip(title_lines, title_y):
    annotations.append(dict(x=34, y=y, text=f"<b>{text}</b>", xanchor="left", yanchor="middle", showarrow=False, xref="x", yref="y",
                            font=dict(family=TITLE_FONT, size=44, color="#000000", shadow="0.6px 0 0 #000, -0.6px 0 0 #000")))
for text, y in zip(legend_lines, legend_line_y):
    annotations.append(dict(x=68, y=y, text=text, xanchor="left", yanchor="middle", showarrow=False, xref="x", yref="y",
                            font=dict(family=TEXT_FONT, size=26.5, color="#000000")))
annotations.append(dict(x=68, y=907, text="Principais áreas industriais", xanchor="left", yanchor="middle", showarrow=False, xref="x", yref="y",
                        font=dict(family=TEXT_FONT, size=26.5, color="#000000")))

fig.update_layout(
    width=1535, height=1371, margin=dict(l=0, r=0, t=0, b=0),
    paper_bgcolor="#ffffff", plot_bgcolor="#ffffff", showlegend=False,
    xaxis=dict(range=[0, 1535], visible=False, fixedrange=True),
    yaxis=dict(range=[1371, 0], visible=False, fixedrange=True),
    annotations=annotations,
    shapes=[dict(type="rect", xref="x", yref="y", x0=26, x1=62, y0=897, y1=916, fillcolor=AREA, line=dict(color="#555555", width=1.5))],
)

fig.write_html("out.html", config=dict(displayModeBar=False), post_script="document.body.style.margin='0'")
